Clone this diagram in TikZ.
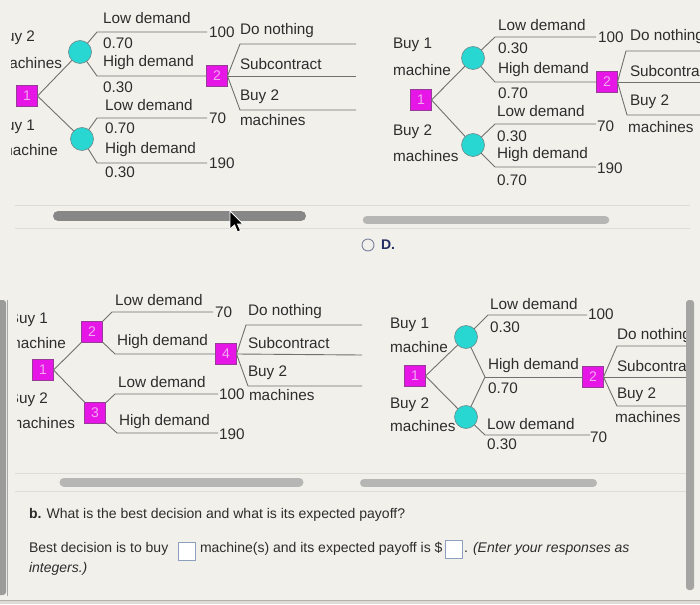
\documentclass[tikz,border=0pt]{standalone}
\usepackage{fontspec}
\setmainfont{Liberation Sans}
\definecolor{bgc}{RGB}{242,240,234}
\definecolor{tcol}{RGB}{45,45,45}
\definecolor{lcol}{RGB}{112,112,112}
\definecolor{mag}{RGB}{230,22,230}
\definecolor{magb}{RGB}{150,60,150}
\definecolor{numc}{RGB}{240,170,240}
\definecolor{cy}{RGB}{40,214,210}
\definecolor{cyb}{RGB}{110,140,140}
\definecolor{sepc}{RGB}{222,220,214}
\definecolor{bardark}{RGB}{135,135,135}
\definecolor{barlight}{RGB}{182,182,180}
\definecolor{navy}{RGB}{35,45,95}
\definecolor{boxc}{RGB}{140,160,190}
\begin{document}
\begin{tikzpicture}[x=1pt,y=-1pt,
  every node/.style={inner sep=0pt,outer sep=0pt},
  txt/.style={anchor=west,text=tcol,font=\fontsize{15.3}{17}\selectfont},
  txtr/.style={anchor=east,text=tcol,font=\fontsize{15.3}{17}\selectfont},
  qtxt/.style={anchor=west,text=tcol,font=\fontsize{14}{16}\selectfont},
  dec/.style={draw=magb,line width=0.6pt,fill=mag,minimum width=21pt,minimum height=21pt,text=numc,font=\fontsize{14}{14}\selectfont},
  chance/.style={circle,draw=cyb,line width=0.6pt,fill=cy,minimum size=23pt},
  br/.style={draw=lcol,line width=0.9pt},
  sep/.style={draw=sepc,line width=0.8pt},
  ansbox/.style={draw=boxc,line width=0.6pt,fill=white,minimum width=17pt,minimum height=18pt}]
\fill[bgc] (0,0) rectangle (700,604);
\useasboundingbox (0,0) rectangle (700,604);
\begin{scope}
\clip (0,0) rectangle (700,604);

% ---------------- top-left tree ----------------
\node[dec] (a1) at (27,96) {1};
\node[chance] (ac1) at (80,52) {};
\node[chance] (ac2) at (82,139) {};
\node[dec] (a2) at (217,76) {2};
\coordinate (ap1) at (97,32);  \coordinate (ap1e) at (207,32);
\coordinate (ap2) at (97,76);
\coordinate (ap3) at (97,118); \coordinate (ap3e) at (207,118);
\coordinate (ap4) at (97,163); \coordinate (ap4e) at (207,163);
\coordinate (aq1) at (240,44);  \coordinate (aq1e) at (356,44);
\coordinate (aq2e) at (356,76);
\coordinate (aq3) at (240,110); \coordinate (aq3e) at (356,110);
\draw[br] (a1.east) -- (ac1);
\draw[br] (a1.east) -- (ac2);
\draw[br] (ac1) -- (ap1) -- (ap1e);
\draw[br] (ac1) -- (ap2) -- (a2);
\draw[br] (ac2) -- (ap3) -- (ap3e);
\draw[br] (ac2) -- (ap4) -- (ap4e);
\draw[br] (a2.east) -- (aq1) -- (aq1e);
\draw[br] (a2.east) -- (aq2e);
\draw[br] (a2.east) -- (aq3) -- (aq3e);
\begin{scope}
\clip (11,0) rectangle (100,200);
\node[txtr] (al1) at (35,38) {Buy 2};
\node[txtr] (al2) at (62,63) {machines};
\node[txtr] (al3) at (35,127) {Buy 1};
\node[txtr] (al4) at (58,150) {machine};
\end{scope}
\node[txt] (at1) at (103,18) {Low demand};
\node[txt] (at2) at (103,43) {0.70};
\node[txt] (at3) at (103,63) {High demand};
\node[txt] (at4) at (103,87) {0.30};
\node[txt] (at5) at (105,105) {Low demand};
\node[txt] (at6) at (105,128) {0.70};
\node[txt] (at7) at (105,150) {High demand};
\node[txt] (at8) at (105,172) {0.30};
\node[txt] (av1) at (209,32) {100};
\node[txt] (av2) at (209,118) {70};
\node[txt] (av3) at (209,163) {190};
\node[txt] (ao1) at (240,31) {Do nothing};
\node[txt] (ao2) at (240,64) {Subcontract};
\node[txt] (ao3) at (240,97) {Buy 2};
\node[txt] (ao4) at (240,120) {machines};

% ---------------- top-right tree ----------------
\node[dec] (b1) at (421,100) {1};
\node[chance] (bc1) at (473,58) {};
\node[chance] (bc2) at (473,145) {};
\node[dec] (b2) at (607,82) {2};
\coordinate (bp1) at (495,37);  \coordinate (bp1e) at (596,37);
\coordinate (bp2) at (495,82);
\coordinate (bp3) at (495,124); \coordinate (bp3e) at (596,124);
\coordinate (bp4) at (495,167); \coordinate (bp4e) at (596,167);
\coordinate (bq1) at (626,51);  \coordinate (bq1e) at (710,51);
\coordinate (bq2e) at (710,82);
\coordinate (bq3) at (627,115); \coordinate (bq3e) at (710,115);
\draw[br] (b1.east) -- (bc1);
\draw[br] (b1.east) -- (bc2);
\draw[br] (bc1) -- (bp1) -- (bp1e);
\draw[br] (bc1) -- (bp2) -- (b2);
\draw[br] (bc2) -- (bp3) -- (bp3e);
\draw[br] (bc2) -- (bp4) -- (bp4e);
\draw[br] (b2.east) -- (bq1) -- (bq1e);
\draw[br] (b2.east) -- (bq2e);
\draw[br] (b2.east) -- (bq3) -- (bq3e);
\node[txt] (bl1) at (393,45) {Buy 1};
\node[txt] (bl2) at (393,70) {machine};
\node[txt] (bl3) at (393,132) {Buy 2};
\node[txt] (bl4) at (393,156) {machines};
\node[txt] (bt1) at (498,25) {Low demand};
\node[txt] (bt2) at (498,48) {0.30};
\node[txt] (bt3) at (498,70) {High demand};
\node[txt] (bt4) at (498,93) {0.70};
\node[txt] (bt5) at (497,111) {Low demand};
\node[txt] (bt6) at (497,136) {0.30};
\node[txt] (bt7) at (497,155) {High demand};
\node[txt] (bt8) at (497,180) {0.70};
\node[txt] (bv1) at (598,37) {100};
\node[txt] (bv2) at (597,126) {70};
\node[txt] (bv3) at (597,168) {190};
\node[txt] (bo1) at (630,37) {Do nothing};
\node[txt] (bo2) at (630,71) {Subcontract};
\node[txt] (bo3) at (630,102) {Buy 2};
\node[txt] (bo4) at (628,127) {machines};

% ---------------- middle separators ----------------
\draw[sep] (15,205) -- (690,205);
\draw[sep] (15,228) -- (690,228);
\draw[bardark,line width=10pt,line cap=round] (58,216) -- (301,216);
\draw[barlight,line width=8.5pt,line cap=round] (367,220) -- (605,220);
\filldraw[fill=black,draw=white,line width=0.8pt] (230,211) -- (230,229) -- (234.5,225) -- (237.5,232) -- (240.5,230.5) -- (237.5,224) -- (243,224) -- cycle;
\node[circle,draw=navy!60,line width=0.9pt,minimum size=12pt] (dopt) at (368,245) {};
\node[anchor=west,text=navy,font=\fontsize{14}{16}\selectfont\bfseries] (dlab) at (381,245) {D.};

% ---------------- bottom-left tree ----------------
\node[dec] (c1) at (43,370) {1};
\node[dec] (c2) at (92,332) {2};
\node[dec] (c3) at (95,413) {3};
\node[dec] (c4) at (226,354) {4};
\coordinate (cp1) at (112,312); \coordinate (cp1e) at (213,312);
\coordinate (cp2) at (115,354);
\coordinate (cp3) at (115,394); \coordinate (cp3e) at (218,394);
\coordinate (cp4) at (117,433); \coordinate (cp4e) at (218,433);
\coordinate (cq1) at (246,325); \coordinate (cq1e) at (362,325);
\coordinate (cq2e) at (362,355);
\coordinate (cq3) at (248,386); \coordinate (cq3e) at (362,386);
\draw[br] (c1.east) -- (c2);
\draw[br] (c1.east) -- (c3);
\draw[br] (c2) -- (cp1) -- (cp1e);
\draw[br] (c2) -- (cp2) -- (c4);
\draw[br] (c3) -- (cp3) -- (cp3e);
\draw[br] (c3) -- (cp4) -- (cp4e);
\draw[br] (c4.east) -- (cq1) -- (cq1e);
\draw[br] (c4.east) -- (cq2e);
\draw[br] (c4.east) -- (cq3) -- (cq3e);
\begin{scope}
\clip (17,280) rectangle (100,460);
\node[txtr] (cl1) at (48,320) {Buy 1};
\node[txtr] (cl2) at (66,343) {machine};
\node[txtr] (cl3) at (48,400) {Buy 2};
\node[txtr] (cl4) at (75,423) {machines};
\end{scope}
\node[txt] (ct1) at (115,300) {Low demand};
\node[txt] (ct2) at (117,342) {High demand};
\node[txt] (ct3) at (118,382) {Low demand};
\node[txt] (ct4) at (119,422) {High demand};
\node[txt] (cv1) at (215,312) {70};
\node[txt] (cv2) at (219,394) {100};
\node[txt] (cv3) at (219,434) {190};
\node[txt] (co1) at (248,312) {Do nothing};
\node[txt] (co2) at (248,343) {Subcontract};
\node[txt] (co3) at (248,373) {Buy 2};
\node[txt] (co4) at (249,395) {machines};

% ---------------- bottom-right tree ----------------
\begin{scope}
\clip (360,280) rectangle (686,460);
\node[dec] (d1) at (415,376) {1};
\node[chance] (dc1) at (466,337) {};
\node[chance] (dc2) at (466,417) {};
\node[dec] (d2) at (593,377) {2};
\coordinate (dp1) at (488,315); \coordinate (dp1e) at (587,315);
\coordinate (dm) at (485,377);
\coordinate (dp3) at (485,435); \coordinate (dp3e) at (590,435);
\coordinate (dq1) at (617,346); \coordinate (dq1e) at (692,346);
\coordinate (dq2e) at (692,377);
\coordinate (dq3) at (617,406); \coordinate (dq3e) at (692,406);
\draw[br] (d1.east) -- (dc1);
\draw[br] (d1.east) -- (dc2);
\draw[br] (dc1) -- (dp1) -- (dp1e);
\draw[br] (dc1) -- (dm);
\draw[br] (dc2) -- (dm);
\draw[br] (dm) -- (d2);
\draw[br] (dc2) -- (dp3) -- (dp3e);
\draw[br] (d2.east) -- (dq1) -- (dq1e);
\draw[br] (d2.east) -- (dq2e);
\draw[br] (d2.east) -- (dq3) -- (dq3e);
\node[txt] (dl1) at (390,325) {Buy 1};
\node[txt] (dl2) at (390,347) {machine};
\node[txt] (dl3) at (390,405) {Buy 2};
\node[txt] (dl4) at (390,426) {machines};
\node[txt] (dt1) at (490,304) {Low demand};
\node[txt] (dt2) at (490,327) {0.30};
\node[txt] (dt3) at (488,366) {High demand};
\node[txt] (dt4) at (488,388) {0.70};
\node[txt] (dt5) at (487,424) {Low demand};
\node[txt] (dt6) at (487,444) {0.30};
\node[txt] (dv1) at (588,314) {100};
\node[txt] (dv2) at (590,437) {70};
\node[txt] (do1) at (617,336) {Do nothing};
\node[txt] (do2) at (617,366) {Subcontract};
\node[txt] (do3) at (617,395) {Buy 2};
\node[txt] (do4) at (615,417) {machines};
\end{scope}

% ---------------- bottom separators and question ----------------
\draw[sep] (15,473) -- (690,473);
\draw[sep] (15,491) -- (690,491);
\draw[barlight,line width=9pt,line cap=round] (64,482) -- (299,482);
\draw[barlight,line width=8pt,line cap=round] (364,483) -- (593,483);
\node[qtxt] (q1) at (29,515) {\textbf{b.} What is the best decision and what is its expected payoff?};
\node[qtxt] (q2) at (29,549) {Best decision is to buy};
\node[ansbox] (box1) at (187,551) {};
\node[qtxt] (q3) at (200,549) {machine(s) and its expected payoff is \$};
\node[ansbox] (box2) at (454,549) {};
\node[qtxt] (q4) at (464,549) {. \textit{(Enter your responses as}};
\node[qtxt] (q5) at (29,569) {\textit{integers.)}};

% ---------------- frame edges ----------------
\fill[barlight!85!black,rounded corners=3pt] (-4,300) rectangle (6,595);
\draw[lcol!60,line width=0.6pt] (7,300) -- (7,596);
\fill[barlight!90!black,rounded corners=3pt] (686,300) rectangle (694,590);
\draw[sepc!80!black,line width=0.8pt] (0,600) -- (700,600);
\fill[sepc] (0,601) rectangle (700,604);
\end{scope}
\end{tikzpicture}
\end{document}
